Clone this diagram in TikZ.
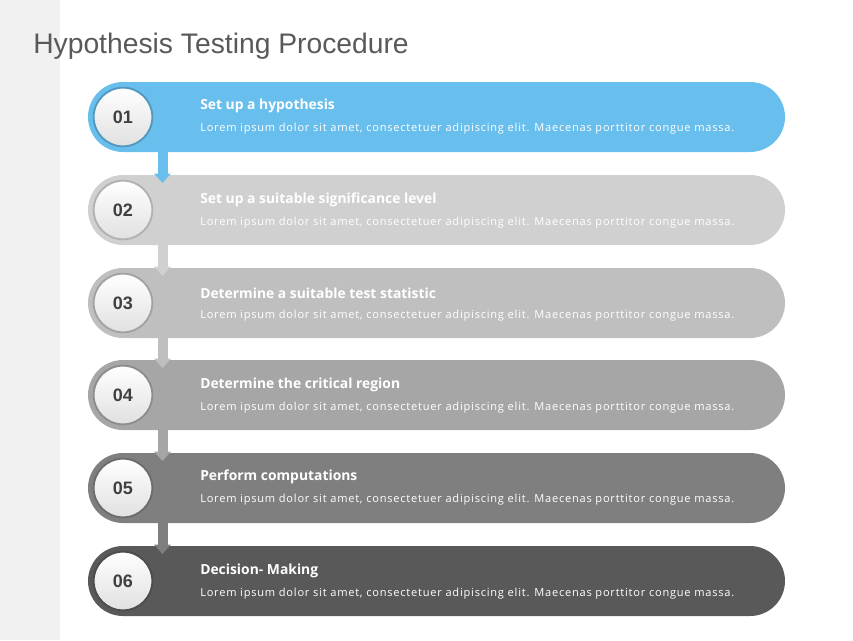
\documentclass[tikz,border=0pt]{standalone}
\usepackage{fontspec}
\setmainfont{Open Sans}
\newfontfamily\titlefont{Liberation Sans}
\newfontfamily\bodyfont[LetterSpace=7]{Open Sans}
\usetikzlibrary{arrows.meta}

\definecolor{stripgray}{RGB}{241,241,241}
\definecolor{titlegray}{RGB}{89,89,89}
\definecolor{numgray}{RGB}{64,64,64}
\definecolor{barA}{RGB}{104,190,236}
\definecolor{barB}{RGB}{208,208,208}
\definecolor{barC}{RGB}{191,191,191}
\definecolor{barD}{RGB}{166,166,166}
\definecolor{barE}{RGB}{127,127,127}
\definecolor{barF}{RGB}{89,89,89}

\tikzset{
  stepbar/.style={draw opacity=0, rounded corners=26.25pt},
  numcircle/.style={circle, minimum size=44pt, inner sep=0pt, line width=1.4pt,
    top color=white, bottom color=black!12, font=\titlefont\bfseries\fontsize{13.5}{13.5}\selectfont, text=numgray},
  headtext/.style={anchor=west, inner sep=0pt, text=white, font=\bfseries\fontsize{10.4}{11}\selectfont},
  bodytext/.style={anchor=west, inner sep=0pt, text=white, font=\bodyfont\fontsize{8.3}{9}\selectfont},
  conn/.style={line width=7.5pt, -{Triangle[width=12pt,length=7pt]}}
}

\begin{document}
\begin{tikzpicture}[x=0.75pt,y=0.75pt,yscale=-1,xscale=1]
\useasboundingbox (0,0) rectangle (853,640);

%Shape: Rectangle [id:left strip]
\fill [stripgray] (0,0) rectangle (60,640) ;

% Text Node
\node (title) [anchor=west, inner sep=0pt, text=titlegray, font=\titlefont\fontsize{21.2}{22}\selectfont] at (33,46) {Hypothesis Testing Procedure};

%Shape: Rounded Rect [id:bar 1]
\draw [stepbar, fill=barA] (88,82) rectangle (785,152) ;
%Shape: Rounded Rect [id:bar 2]
\draw [stepbar, fill=barB] (88,175) rectangle (785,245) ;
%Shape: Rounded Rect [id:bar 3]
\draw [stepbar, fill=barC] (88,268) rectangle (785,338) ;
%Shape: Rounded Rect [id:bar 4]
\draw [stepbar, fill=barD] (88,360) rectangle (785,430) ;
%Shape: Rounded Rect [id:bar 5]
\draw [stepbar, fill=barE] (88,453) rectangle (785,523) ;
%Shape: Rounded Rect [id:bar 6]
\draw [stepbar, fill=barF] (88,546) rectangle (785,616) ;

%Connector ends
\coordinate (out1) at (162.5,152);
\coordinate (in2) at (162.5,183);
\coordinate (out2) at (162.5,245);
\coordinate (in3) at (162.5,276);
\coordinate (out3) at (162.5,338);
\coordinate (in4) at (162.5,368);
\coordinate (out4) at (162.5,430);
\coordinate (in5) at (162.5,461);
\coordinate (out5) at (162.5,523);
\coordinate (in6) at (162.5,554);

%Straight Lines [id:connectors]
\draw [conn, draw=barA, fill=barA] (out1) -- (in2) ;
\draw [conn, draw=barB, fill=barB] (out2) -- (in3) ;
\draw [conn, draw=barC, fill=barC] (out3) -- (in4) ;
\draw [conn, draw=barD, fill=barD] (out4) -- (in5) ;
\draw [conn, draw=barE, fill=barE] (out5) -- (in6) ;

%Shape: Circle [id:number circles]
\node (n1) [numcircle, draw=barA!80!black] at (123,117) {01};
\node (n2) [numcircle, draw=barB!85!black] at (123,210) {02};
\node (n3) [numcircle, draw=barC!85!black] at (123,303) {03};
\node (n4) [numcircle, draw=barD!85!black] at (123,395) {04};
\node (n5) [numcircle, draw=barE!85!black] at (123,488) {05};
\node (n6) [numcircle, draw=barF!85!black] at (123,581) {06};

% Text Node
\node (h1) [headtext] at (200,106) {Set up a hypothesis};
\node (t1) [bodytext] at (200,129) {Lorem ipsum dolor sit amet, consectetuer adipiscing elit. Maecenas porttitor congue massa.};
% Text Node
\node (h2) [headtext] at (200,200) {Set up a suitable significance level};
\node (t2) [bodytext] at (200,223) {Lorem ipsum dolor sit amet, consectetuer adipiscing elit. Maecenas porttitor congue massa.};
% Text Node
\node (h3) [headtext] at (200,293) {Determine a suitable test statistic};
\node (t3) [bodytext] at (200,316) {Lorem ipsum dolor sit amet, consectetuer adipiscing elit. Maecenas porttitor congue massa.};
% Text Node
\node (h4) [headtext] at (200,385) {Determine the critical region};
\node (t4) [bodytext] at (200,408) {Lorem ipsum dolor sit amet, consectetuer adipiscing elit. Maecenas porttitor congue massa.};
% Text Node
\node (h5) [headtext] at (200,477) {Perform computations};
\node (t5) [bodytext] at (200,500) {Lorem ipsum dolor sit amet, consectetuer adipiscing elit. Maecenas porttitor congue massa.};
% Text Node
\node (h6) [headtext] at (200,571) {Decision- Making};
\node (t6) [bodytext] at (200,594) {Lorem ipsum dolor sit amet, consectetuer adipiscing elit. Maecenas porttitor congue massa.};

\end{tikzpicture}
\end{document}
